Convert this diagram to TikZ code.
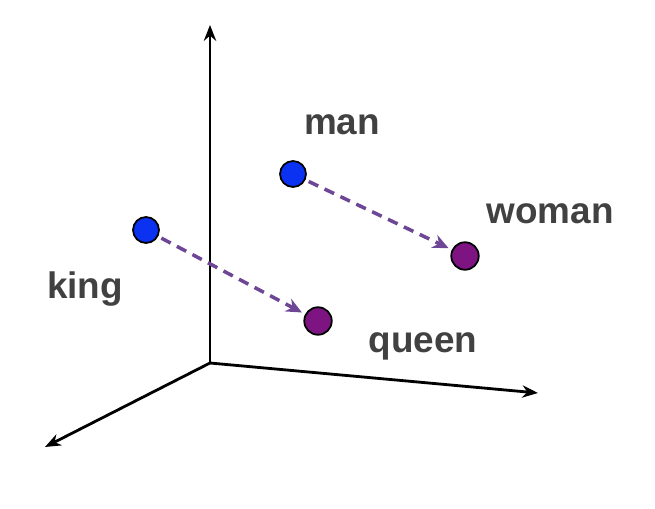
\documentclass[tikz,border=0pt]{standalone}
\usepackage{fontspec}
\setmainfont{Liberation Sans}
\usetikzlibrary{arrows.meta}
\definecolor{dotblue}{RGB}{10,50,240}
\definecolor{dotpurple}{RGB}{125,20,130}
\definecolor{arr}{RGB}{110,70,150}
\definecolor{txt}{RGB}{65,65,65}
\begin{document}
\begin{tikzpicture}[x=0.02cm,y=-0.02cm,
  axis/.style={line width=1.6pt,-{Stealth[length=9pt,width=7pt]}},
  bdot/.style={circle,draw=black,line width=1pt,fill=dotblue,minimum size=0.52cm,inner sep=0pt},
  pdot/.style={circle,draw=black,line width=1pt,fill=dotpurple,minimum size=0.55cm,inner sep=0pt},
  lbl/.style={text=txt,font=\fontsize{21}{24}\selectfont\bfseries},
  vec/.style={arr,line width=2pt,dash pattern=on 6pt off 4pt,-{Stealth[length=9pt,width=8pt]},shorten <=2pt,shorten >=2pt}]
\useasboundingbox (0,0) rectangle (655,509);
\coordinate (o) at (210,363);
\coordinate (up) at (210,25);
\coordinate (rt) at (538,393);
\coordinate (lf) at (45,447);
\draw[axis] (o) -- (up);
\draw[axis] (o) -- (rt);
\draw[axis] (o) -- (lf);
\node[bdot] (man) at (293,174) {};
\node[pdot] (woman) at (465,256) {};
\node[bdot] (king) at (146,230) {};
\node[pdot] (queen) at (318,321) {};
\draw[vec] (man) -- (woman);
\draw[vec] (king) -- (queen);
\node[lbl] (lman) at (342,125) {man};
\node[lbl] (lwoman) at (550,214) {woman};
\node[lbl] (lking) at (85,289) {king};
\node[lbl] (lqueen) at (423,346) {queen};
\end{tikzpicture}
\end{document}
